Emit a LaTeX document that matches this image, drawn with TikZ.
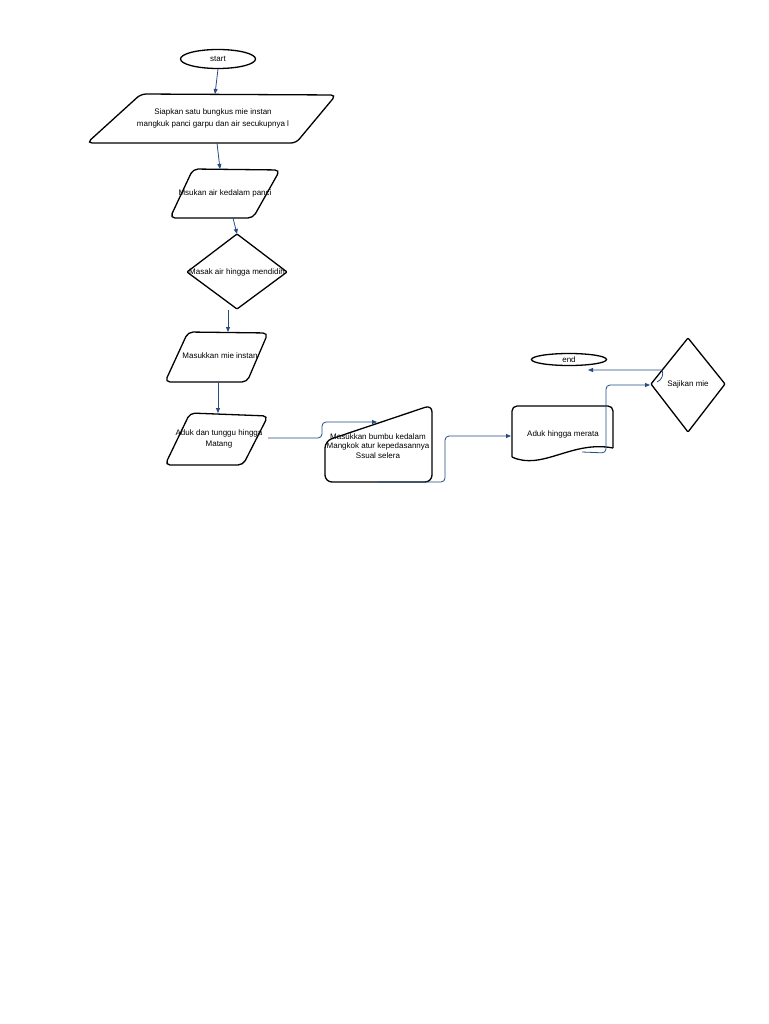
\documentclass[tikz,border=0pt]{standalone}
\usepackage{fontspec}
\setmainfont{Liberation Sans}
\usetikzlibrary{arrows.meta,shapes.geometric}
\definecolor{linkblue}{RGB}{36,76,130}
\begin{document}
\begin{tikzpicture}[x=1pt,y=-1pt,
  box/.style={draw=black,line width=1.3pt,rounded corners=5pt},
  conn/.style={draw=linkblue,line width=0.8pt,rounded corners=4pt,-{Triangle[length=5pt,width=4pt]}},
  lbl/.style={font=\fontsize{8}{10}\selectfont,align=center,inner sep=0pt},
  term/.style={ellipse,draw=black,line width=1.3pt,inner sep=0pt,font=\fontsize{8}{10}\selectfont}]
\useasboundingbox (0,0) rectangle (768,1024);
\fill[white] (0,0) rectangle (768,1024);

% terminals
\node[term,minimum width=75pt,minimum height=19pt] (start) at (218,59) {start};
\node[term,minimum width=75pt,minimum height=12pt] (end) at (569,359.5) {end};

% parallelogram 1
\draw[box] (141,94) -- (336,95) -- (296,143) -- (87,143) -- cycle;
\node[lbl,font=\fontsize{8}{12}\selectfont] (p1) at (213,118) {Siapkan satu bungkus mie instan\\mangkuk panci garpu dan air secukupnya l};
\coordinate (p1top) at (215,94);
\coordinate (p1bot) at (217,143);

% parallelogram 2
\draw[box] (193,169) -- (280,170) -- (253,218) -- (170,218) -- cycle;
\node[lbl] (p2) at (225,193) {Msukan air kedalam panci};
\coordinate (p2top) at (220,169);
\coordinate (p2bot) at (233,218);

% decision 1
\draw[box,rounded corners=1pt] (237,234) -- (287,272) -- (237,309) -- (187,272) -- cycle;
\node[lbl] (d1) at (237,272) {Masak air hingga mendidih};
\coordinate (d1top) at (237,234);
\coordinate (d1bot) at (228,310);

% parallelogram 3
\draw[box] (188,332) -- (268,333) -- (247,382) -- (165,382) -- cycle;
\node[lbl] (p3) at (220,356) {Masukkan mie instan};
\coordinate (p3top) at (228,332);
\coordinate (p3bot) at (218,382);

% parallelogram 4
\draw[box] (190,413) -- (268,416) -- (243,465) -- (165,465) -- cycle;
\node[lbl,font=\fontsize{8}{10.5}\selectfont] (p4) at (219,439) {Aduk dan tunggu hingga\\Matang};
\coordinate (p4top) at (218,413);
\coordinate (p4out) at (268,438);

% manual input
\draw[box,rounded corners=7pt] (325,441) -- (432,405) -- (432,482) -- (325,482) -- cycle;
\node[lbl,font=\fontsize{8}{9.5}\selectfont] (m1) at (378,446) {Masukkan bumbu kedalam\\Mangkok atur kepedasannya\\Ssual selera};
\coordinate (m1in) at (377,422);
\coordinate (m1out) at (378,482);

% document
\draw[box] (512,457) -- (512,406) -- (613,406) -- (613,448);
\draw[line width=1.3pt] (512,457) .. controls (542,471) and (572,440) .. (613,448);
\node[lbl] (doc) at (563,434) {Aduk hingga merata};
\coordinate (docin) at (511,436);
\coordinate (docout) at (582,452);

% decision 2
\draw[box,rounded corners=1pt] (688,338) -- (725,384) -- (688,432) -- (651,384) -- cycle;
\node[lbl] (d2) at (688,384) {Sajikan mie};
\coordinate (d2in) at (650,385);
\coordinate (d2out) at (657,382);
\coordinate (endin) at (588,370);

% connectors
\draw[conn] (start.south) -- (p1top);
\draw[conn] (p1bot) -- (p2top);
\draw[conn] (p2bot) -- (d1top);
\draw[conn] (d1bot) -- (p3top);
\draw[conn] (p3bot) -- (p4top);
\draw[conn] (p4out) -- (322,438) -- (322,422) -- (m1in);
\draw[conn] (m1out) -- (445,482) -- (445,436) -- (docin);
\draw[conn] (docout) -- (606,453) -- (606,385) -- (d2in);
\draw[conn,rounded corners=0pt] (d2out) .. controls (662,380) and (664,374) .. (662,370) -- (endin);
\end{tikzpicture}
\end{document}
